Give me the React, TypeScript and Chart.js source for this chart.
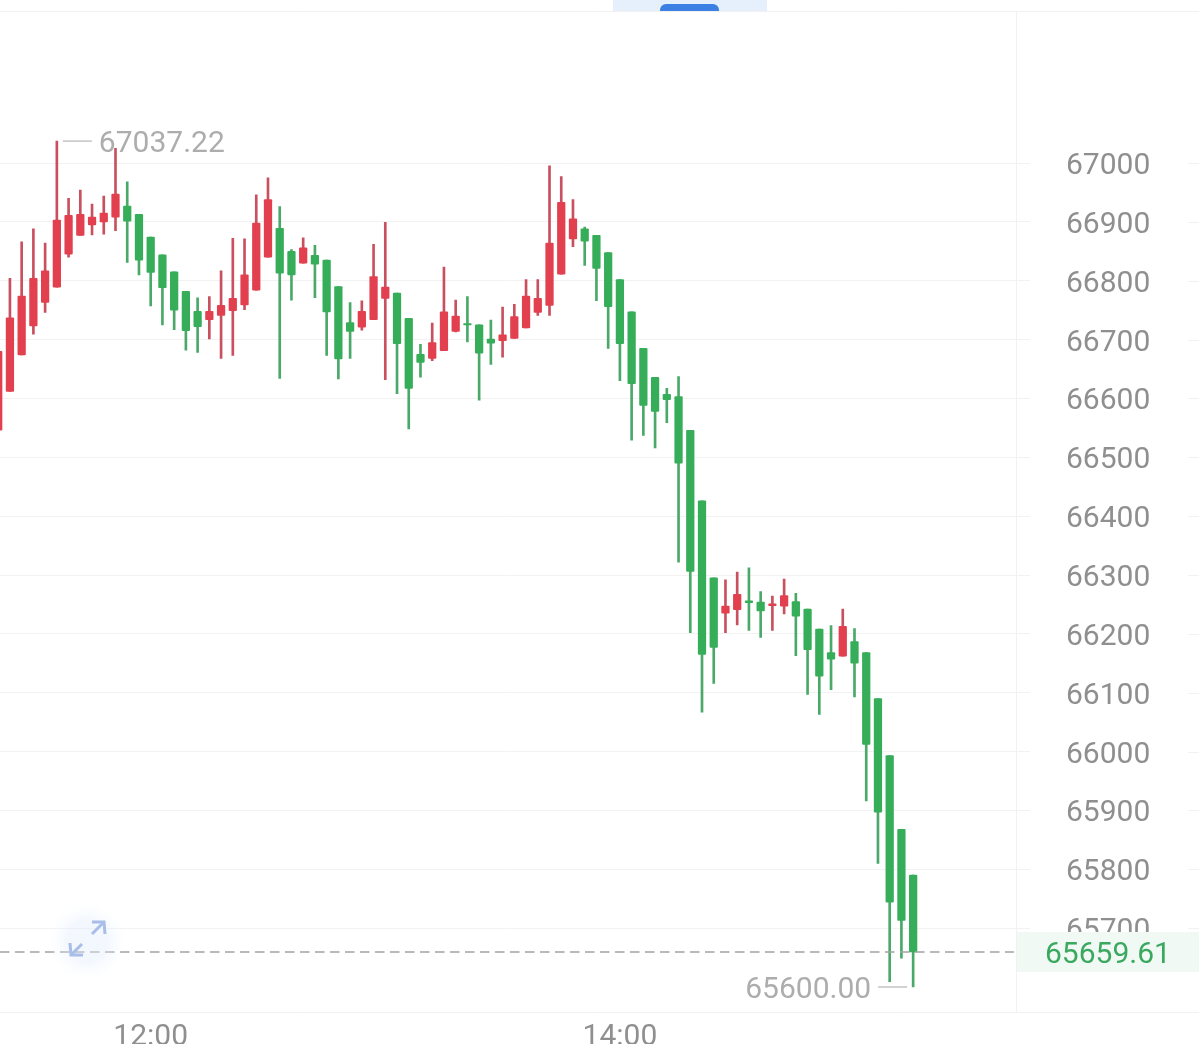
import React, { useEffect, useRef } from "react";
import { Chart, registerables } from "chart.js";

Chart.register(...registerables);

// Candle open times, minutes since midnight (3-minute candles)
const times = [
  681, 684, 687, 690, 693, 696, 699, 702, 705, 708, 711, 714, 717, 720, 723, 726, 729, 732, 735, 738,
  741, 744, 747, 750, 753, 756, 759, 762, 765, 768, 771, 774, 777, 780, 783, 786, 789, 792, 795, 798,
  801, 804, 807, 810, 813, 816, 819, 822, 825, 828, 831, 834, 837, 840, 843, 846, 849, 852, 855, 858,
  861, 864, 867, 870, 873, 876, 879, 882, 885, 888, 891, 894, 897, 900, 903, 906, 909, 912, 915,
];
const opens = [
  66546, 66612, 66674, 66723, 66763, 66789, 66845, 66877, 66895, 66900, 66908, 66927, 66913, 66874, 66844, 66815, 66782, 66748, 66734, 66741,
  66749, 66759, 66784, 66840, 66889, 66850, 66830, 66843, 66835, 66790, 66729, 66721, 66734, 66770, 66779, 66736, 66675, 66668, 66681, 66714,
  66727, 66725, 66701, 66698, 66702, 66720, 66746, 66758, 66811, 66871, 66888, 66877, 66848, 66802, 66747, 66685, 66636, 66607, 66603, 66546,
  66426, 66295, 66235, 66241, 66256, 66254, 66248, 66247, 66255, 66242, 66208, 66168, 66162, 66187, 66168, 66090, 65993, 65868, 65790,
];
const highs = [
  66680, 66804, 66866, 66888, 66864, 67037.22, 66940, 66954, 66930, 66944, 67025, 66968, 66913, 66874, 66844, 66815, 66782, 66771, 66773, 66817,
  66872, 66871, 66946, 66975, 66926, 66853, 66873, 66860, 66835, 66790, 66763, 66766, 66862, 66899, 66779, 66736, 66692, 66728, 66823, 66767,
  66773, 66725, 66733, 66755, 66760, 66802, 66802, 66995, 66977, 66938, 66891, 66877, 66848, 66802, 66747, 66685, 66636, 66617, 66637, 66546,
  66426, 66295, 66292, 66305, 66312, 66272, 66264, 66293, 66269, 66242, 66208, 66214, 66242, 66209, 66168, 66090, 65993, 65868, 65790,
];
const lows = [
  66546, 66612, 66674, 66709, 66746, 66789, 66840, 66877, 66878, 66879, 66885, 66831, 66810, 66757, 66725, 66717, 66682, 66678, 66701, 66668,
  66673, 66751, 66784, 66840, 66634, 66767, 66830, 66771, 66673, 66633, 66668, 66716, 66734, 66632, 66608, 66548, 66636, 66664, 66681, 66713,
  66696, 66597, 66658, 66670, 66702, 66720, 66741, 66741, 66811, 66858, 66826, 66766, 66685, 66630, 66529, 66537, 66516, 66559, 66322, 66202,
  66067, 66116, 66202, 66215, 66206, 66194, 66206, 66234, 66163, 66097, 66063, 66105, 66162, 66093, 65916, 65810, 65609, 65649, 65600,
];
const closes = [
  66680, 66737, 66774, 66804, 66817, 66903, 66911, 66913, 66908, 66915, 66947, 66901, 66835, 66814, 66788, 66750, 66715, 66722, 66748, 66758,
  66770, 66810, 66898, 66938, 66813, 66810, 66856, 66828, 66747, 66667, 66714, 66748, 66807, 66789, 66693, 66617, 66661, 66695, 66747, 66740,
  66725, 66677, 66694, 66708, 66739, 66774, 66770, 66864, 66933, 66905, 66867, 66821, 66756, 66693, 66625, 66588, 66578, 66598, 66490, 66306,
  66165, 66177, 66247, 66267, 66253, 66239, 66251, 66265, 66230, 66173, 66128, 66157, 66213, 66150, 66012, 65897, 65744, 65713, 65659.61,
];

const yTicks = [65700, 65800, 65900, 66000, 66100, 66200, 66300, 66400, 66500, 66600, 66700, 66800, 66900, 67000];
const xTicks = [720, 840];
const xTickLabels: Record<number, string> = { 720: "12:00", 840: "14:00" };
const highLabel = "67037.22";
const highValue = 67037.22;
const highTime = 696;
const lowLabel = "65600.00";
const lowValue = 65600;
const lowTime = 915;
const lastLabel = "65659.61";
const lastValue = 65659.61;

const FONT = "Roboto";
const FONT_SIZE = 30;
const RED = "#e2404f";
const GREEN = "#36ae59";
const RED_WICK = "#c9505f";
const GREEN_WICK = "#4aa968";

const arrow = (ctx: CanvasRenderingContext2D, pts: number[][]) => {
  ctx.beginPath();
  pts.forEach(([x, y], i) => (i ? ctx.lineTo(x, y) : ctx.moveTo(x, y)));
  ctx.stroke();
};

const decorations = {
  id: "decorations",
  afterDraw(chart: any) {
    const { ctx, scales } = chart;
    const x = scales.x;
    const y = scales.y;
    const area = chart.chartArea;
    ctx.save();

    // frame
    ctx.strokeStyle = "#f1f1f1";
    ctx.lineWidth = 1;
    ctx.beginPath();
    ctx.moveTo(0, area.top);
    ctx.lineTo(1199, area.top);
    ctx.moveTo(0, area.bottom);
    ctx.lineTo(1199, area.bottom);
    ctx.moveTo(area.right - 0.5, area.top);
    ctx.lineTo(area.right - 0.5, area.bottom);
    yTicks.forEach((v) => {
      const p = Math.round(y.getPixelForValue(v)) + 0.5;
      ctx.moveTo(1188, p);
      ctx.lineTo(1199, p);
    });
    ctx.stroke();

    // top tab
    ctx.fillStyle = "#e6effc";
    ctx.fillRect(613, 0, 154, 11);
    ctx.fillStyle = "#3b80e2";
    ctx.beginPath();
    ctx.roundRect(660, 4, 59, 7, [6, 6, 0, 0]);
    ctx.fill();

    // last price line
    const lastY = y.getPixelForValue(lastValue);
    ctx.strokeStyle = "#a3a3a3";
    ctx.lineWidth = 1.6;
    ctx.setLineDash([9.5, 5.5]);
    ctx.beginPath();
    ctx.moveTo(0, lastY);
    ctx.lineTo(1014, lastY);
    ctx.stroke();
    ctx.setLineDash([]);

    // last price box
    ctx.fillStyle = "#f0f9f4";
    ctx.fillRect(1017, 932, 182, 40);
    ctx.font = `${FONT_SIZE}px ${FONT}`;
    ctx.textBaseline = "middle";
    ctx.textAlign = "left";
    ctx.fillStyle = "#3aa95f";
    ctx.fillText(lastLabel, 1045, lastY + 3.5);

    // high / low markers
    ctx.strokeStyle = "#c4c4c4";
    ctx.lineWidth = 1.5;
    const hx = x.getPixelForValue(highTime);
    const hy = y.getPixelForValue(highValue);
    ctx.beginPath();
    ctx.moveTo(hx + 6, hy);
    ctx.lineTo(hx + 35, hy);
    ctx.stroke();
    ctx.fillStyle = "#adadad";
    ctx.fillText(highLabel, hx + 42, hy + 3.5);

    const lx = x.getPixelForValue(lowTime);
    const ly = y.getPixelForValue(lowValue);
    ctx.beginPath();
    ctx.moveTo(lx - 6, ly);
    ctx.lineTo(lx - 35, ly);
    ctx.stroke();
    ctx.textAlign = "right";
    ctx.fillText(lowLabel, lx - 42, ly + 3.5);

    // expand button
    const g = ctx.createRadialGradient(87, 941, 20, 87, 941, 38);
    g.addColorStop(0, "rgba(225,236,252,0.4)");
    g.addColorStop(1, "rgba(235,243,253,0)");
    ctx.fillStyle = g;
    ctx.beginPath();
    ctx.arc(87, 941, 38, 0, Math.PI * 2);
    ctx.fill();
    ctx.strokeStyle = "#a9bde9";
    ctx.lineWidth = 3;
    arrow(ctx, [[92, 934], [104, 922]]);
    arrow(ctx, [[92, 922], [104, 922], [105, 934]]);
    arrow(ctx, [[82, 944], [71, 955]]);
    arrow(ctx, [[70, 943], [71, 955], [83, 955]]);

    ctx.restore();
  },
};

export default function App() {
  const ref = useRef<HTMLCanvasElement>(null);

  useEffect(() => {
    document.body.style.margin = "0";
    document.body.style.background = "#ffffff";
    if (!ref.current) return;
    const isUp = (i: number) => closes[i] >= opens[i];
    const chart = new Chart(ref.current, {
      type: "bar",
      data: {
        datasets: [
          {
            label: "wick",
            data: times.map((t, i) => ({ x: t, y: [lows[i], highs[i]] })) as any,
            barThickness: 2,
            grouped: false,
            order: 2,
            backgroundColor: times.map((_, i) => (isUp(i) ? RED_WICK : GREEN_WICK)),
          },
          {
            label: "body",
            data: times.map((t, i) => ({ x: t, y: [opens[i], closes[i]] })) as any,
            barThickness: 7.6,
            grouped: false,
            order: 1,
            borderRadius: 1,
            borderSkipped: false,
            backgroundColor: times.map((_, i) => (isUp(i) ? RED : GREEN)),
          },
        ],
      },
      options: {
        animation: false,
        responsive: false,
        events: [],
        layout: { padding: { top: 11.5, left: 0, right: 0, bottom: 0 } },
        plugins: { legend: { display: false }, tooltip: { enabled: false } },
        scales: {
          x: {
            type: "linear",
            offset: false,
            min: 681.46,
            max: 941.56,
            border: { display: false },
            grid: { display: false, offset: false },
            afterBuildTicks: (s: any) => {
              s.ticks = xTicks.map((value) => ({ value }));
            },
            afterFit: (s: any) => {
              s.height = 31.5;
              s.paddingLeft = s.paddingRight = s.paddingTop = s.paddingBottom = 0;
            },
            ticks: {
              autoSkip: false,
              maxRotation: 0,
              padding: -1,
              color: "#8f8f8f",
              font: { family: FONT, size: FONT_SIZE },
              callback: (v: any) => xTickLabels[v as number] ?? "",
            },
          },
          y: {
            type: "linear",
            position: "right",
            min: 65556.7,
            max: 67257.4,
            border: { display: false },
            grid: { color: "#f2f2f2", lineWidth: 1, drawTicks: true, tickLength: 13 },
            afterBuildTicks: (s: any) => {
              s.ticks = yTicks.map((value) => ({ value }));
            },
            afterFit: (s: any) => {
              s.width = 182;
              s.paddingLeft = s.paddingRight = s.paddingTop = s.paddingBottom = 0;
            },
            ticks: {
              autoSkip: false,
              padding: 36,
              color: "#8f8f8f",
              font: { family: FONT, size: FONT_SIZE, lineHeight: 7 / FONT_SIZE },
              // the empty first line nudges the label down onto its gridline
              callback: (v: any) => ["", String(v)],
            },
          },
        },
      },
      plugins: [decorations],
    } as any);
    return () => chart.destroy();
  }, []);

  return (
    <div style={{ position: "absolute", left: 0, top: 0, width: 1199, height: 1044, overflow: "hidden" }}>
      <canvas ref={ref} width={1199} height={1044} style={{ display: "block" }} />
    </div>
  );
}
